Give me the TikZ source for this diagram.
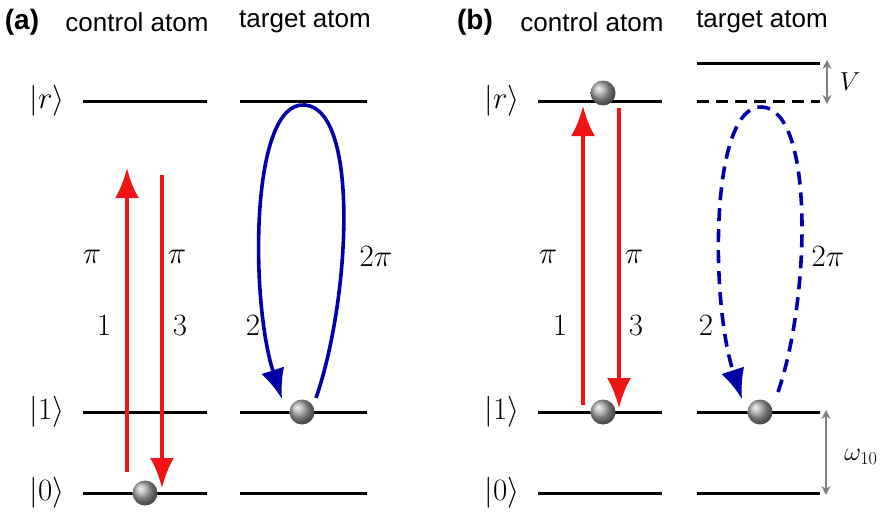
\RequirePackage{fix-cm}
\documentclass[tikz,border=0pt]{standalone}
\usepackage{fontspec}
\newfontfamily\lab{Liberation Sans}
\usetikzlibrary{arrows.meta}
\begin{document}
\begin{tikzpicture}[x=1pt,y=-1pt,
 lvl/.style={line width=3pt,black},
 red/.style={draw={rgb,255:red,240;green,20;blue,20},line width=3.6pt,-{Latex[length=30pt,width=24pt]}},
 blu/.style={draw={rgb,255:red,0;green,0;blue,170},line width=3.6pt,-{Latex[length=30pt,width=24pt]}},
 gr/.style={draw=gray,line width=2.2pt,{Stealth[length=9pt,width=9pt]}-{Stealth[length=9pt,width=9pt]}},
 ball/.style={circle,minimum size=25pt,inner sep=0,shading=ball,ball color=gray!70},
 tt/.style={font=\lab\fontsize{26}{30}\selectfont},
 bb/.style={font=\lab\bfseries\fontsize{28}{32}\selectfont},
 mm/.style={font=\fontsize{31}{36}\selectfont}]
\useasboundingbox (0,0) rectangle (886,517);
% panel a
\node[bb] (la) at (22,22) {(a)};
\node[tt] (ca) at (137,22) {control atom};
\node[tt] (ta) at (305,22) {target atom};
\foreach \y/\n in {101/r,412/1,493/0}{
 \draw[lvl] (83,\y) -- (207,\y);
 \draw[lvl] (240,\y) -- (367,\y);
 \node[mm] (ak\n) at (47,\y) {$|\n\rangle$};}
\draw[red] (127,472) -- (127,168);
\draw[red] (162,175) -- (162,488);
\node[ball] (ab0) at (145,493) {};
\node[ball] (ab1) at (302,412) {};
\draw[blu] (316,398) .. controls (350,300) and (360,110) .. (305,105) .. controls (250,100) and (250,300) .. (282,399);
\node[mm] (ap1) at (92,257) {$\pi$};
\node[mm] (ap2) at (177,257) {$\pi$};
\node[mm] (an1) at (104,326) {$1$};
\node[mm] (an3) at (180,326) {$3$};
\node[mm] (an2) at (253,326) {$2$};
\node[mm] (ap3) at (376,257) {$2\pi$};
% panel b
\node[bb] (lb) at (475,22) {(b)};
\node[tt] (cb) at (592,22) {control atom};
\node[tt] (tb) at (762,22) {target atom};
\foreach \y/\n in {101/r,412/1,493/0}{
 \draw[lvl] (538,\y) -- (662,\y);
 \node[mm] (bk\n) at (502,\y) {$|\n\rangle$};}
\draw[lvl] (697,412) -- (820,412);
\draw[lvl] (697,493) -- (820,493);
\draw[lvl,dash pattern=on 12pt off 7pt] (697,101) -- (820,101);
\draw[lvl] (697,63) -- (820,63);
\draw[red] (583,405) -- (583,106);
\draw[red] (619,108) -- (619,408);
\node[ball] (bb1) at (603,93) {};
\node[ball] (bb2) at (603,412) {};
\node[ball] (bb3) at (760,412) {};
\draw[blu,dash pattern=on 13pt off 8pt] (778,392) .. controls (810,300) and (815,110) .. (762,107) .. controls (710,104) and (710,300) .. (742,399);
\draw[gr] (827,60) -- (827,104);
\node[font=\fontsize{26}{30}\selectfont] (vv) at (850,82) {$V$};
\draw[gr] (826,410) -- (826,495);
\node[font=\fontsize{26}{30}\selectfont] (ww) at (861,457) {$\omega_{10}$};
\node[mm] (bp1) at (548,257) {$\pi$};
\node[mm] (bp2) at (634,257) {$\pi$};
\node[mm] (bn1) at (560,326) {$1$};
\node[mm] (bn3) at (636,326) {$3$};
\node[mm] (bn2) at (706,326) {$2$};
\node[mm] (bp3) at (828,257) {$2\pi$};
\end{tikzpicture}
\end{document}
